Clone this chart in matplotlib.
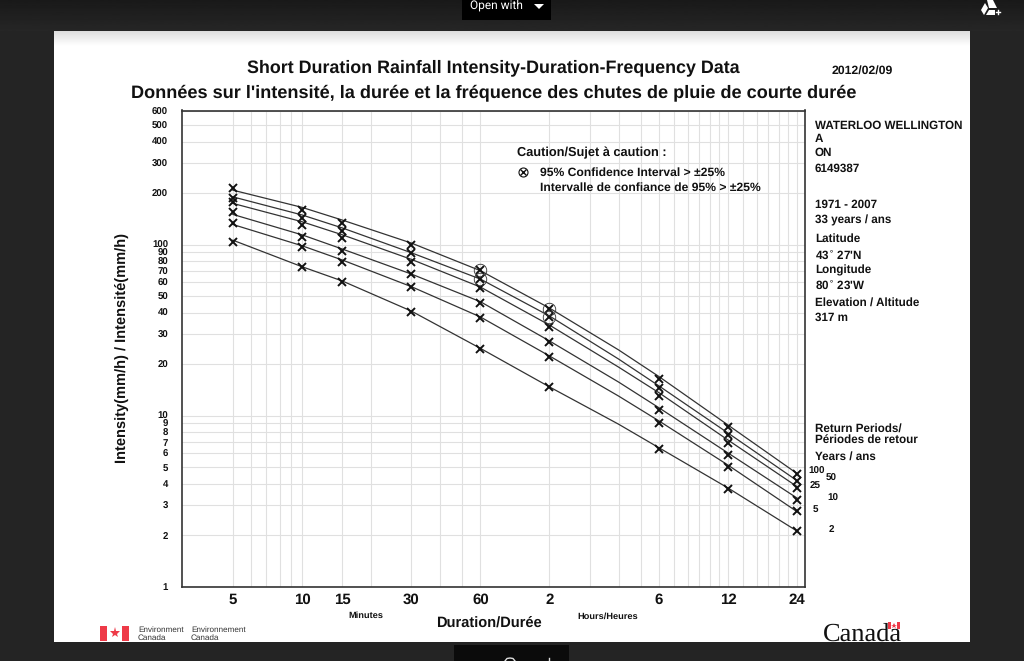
import numpy as np
import matplotlib
matplotlib.use("Agg")
import matplotlib.pyplot as plt
from matplotlib.patches import Rectangle, Polygon

plt.rcParams['font.family'] = ['Liberation Sans', 'DejaVu Sans']
plt.rcParams['text.hinting'] = 'no_hinting'

# durations in minutes
durations = [5, 10, 15, 30, 60, 120, 360, 720, 1440]
curve_durations = [5, 10, 15, 30, 60, 120, 240, 360, 720, 1440]

# x marks
marks_100 = [215, 159, 134, 99.3, 70.9, 41.8, 16.35, 8.53, 4.55]
marks_50 = [188, 143, 120, 88.8, 62.6, 37.5, 14.4, 7.69, 4.14]
marks_25 = [178, 130, 109, 79.3, 55.4, 32.8, 13.0, 6.93, 3.75]
marks_10 = [154, 111, 92, 66.9, 45.3, 26.8, 10.8, 5.88, 3.21]
marks_5 = [134, 96.3, 79.3, 56.2, 37.0, 22.0, 9.1, 4.98, 2.78]
marks_2 = [103, 73.6, 60.6, 40.5, 24.5, 14.6, 6.41, 3.70, 2.11]

# fitted curves
curve_100 = [208, 165, 139, 102, 70.3, 42.5, 24.2, 16.9, 8.8, 4.58]
curve_50 = [190, 149, 125, 89.5, 62.8, 38.2, 21.4, 14.9, 7.9, 4.16]
curve_25 = [174, 136, 114, 81.9, 56.4, 33.8, 19.2, 13.6, 7.19, 3.84]
curve_10 = [150, 114, 94.1, 67.2, 46.3, 27.3, 15.7, 11.1, 6.04, 3.29]
curve_5 = [131, 98.4, 81.2, 56.7, 37.7, 22.3, 13.0, 9.3, 5.13, 2.74]
curve_2 = [106, 74.2, 61.2, 40.8, 24.7, 14.7, 8.9, 6.48, 3.77, 2.11]

# points flagged with a circle (95% CI > 25%)
caution_x = [60, 60, 120, 120]
caution_y = [70.9, 62.6, 41.8, 37.5]

y_grid = [1, 2, 3, 4, 5, 6, 7, 8, 9, 10, 20, 30, 40, 50, 60, 70, 80, 90, 100,
          200, 300, 400, 500, 600]
x_grid = [5, 6, 7, 8, 9, 10, 15, 20, 30, 40, 50, 60, 120, 180, 240, 300, 360,
          420, 480, 540, 600, 660, 720, 840, 960, 1080, 1200, 1320, 1440]
x_labels = {5: '5', 10: '10', 15: '15', 30: '30', 60: '60', 120: '2',
            360: '6', 720: '12', 1440: '24'}

W, H = 1024, 661
fig = plt.figure(figsize=(W / 100, H / 100), dpi=100, facecolor='#242424')

# page and viewer chrome, in pixels
bg = fig.add_axes([0, 0, 1, 1], zorder=0)
bg.axis('off')
band = np.linspace(0.10, 0.15, 40).reshape(-1, 1)
bg.imshow(band, extent=[0, W, 31, 0], cmap='gray', vmin=0, vmax=1, aspect='auto')
bg.add_patch(Rectangle((54, 31), 916, 611, color='white', lw=0))
shade = np.linspace(0.87, 1, 30).reshape(-1, 1)
bg.imshow(shade, extent=[54, 970, 46, 31], cmap='gray', vmin=0, vmax=1, aspect='auto', zorder=2)
bg.set_xlim(0, W)
bg.set_ylim(H, 0)
bg.add_patch(Rectangle((462, -3), 89, 23, color='black', lw=0))
bg.add_patch(Polygon([(534, 4), (544, 4), (539, 9)], color='white', lw=0))
bg.add_patch(Polygon([(987, 0), (993, 0), (997, 8), (989, 8)], color='white', lw=0))
bg.add_patch(Polygon([(985, 3), (988, 8), (984, 15), (981, 10)], color='white', lw=0))
bg.add_patch(Polygon([(989, 10), (995, 10), (995, 15), (986, 15)], color='white', lw=0))
bg.plot([996, 1000], [12, 12], color='white', lw=1)
bg.plot([998, 998], [10, 14], color='white', lw=1)
bg.add_patch(Rectangle((454, 645), 115, 20, color='#0b0b0b', lw=0))
bg.plot([505, 507, 510, 513, 515], [661, 658.5, 658, 658.5, 661], color='#dddddd', lw=1)
bg.plot([549, 549], [658, 661], color='#dddddd', lw=1)

# flag logos
bg.add_patch(Rectangle((100, 626), 7, 15, color='#ee3a48', lw=0))
bg.add_patch(Rectangle((122, 626), 7, 15, color='#ee3a48', lw=0))
bg.plot([114.5], [633], marker='*', ms=8, color='#ee3a48', mew=0)
bg.add_patch(Rectangle((888, 622), 3, 7, color='#ee3a48', lw=0))
bg.add_patch(Rectangle((897, 622), 3, 7, color='#ee3a48', lw=0))
bg.plot([894], [625.5], marker='*', ms=4, color='#ee3a48', mew=0)

# text layer sits above the grid
fg = fig.add_axes([0, 0, 1, 1], zorder=3)
fg.patch.set_alpha(0)
fg.axis('off')
fg.set_xlim(0, W)
fg.set_ylim(H, 0)


def txt(x, y, s, size=8, weight='bold', ha='left', color='#111111', **kw):
    fg.text(x, y, s, fontsize=size, fontweight=weight, ha=ha, va='center',
            color=color, **kw)


txt(470, 5, 'Open with', 8.6, weight='normal', color='white', family='Roboto')
txt(493.5, 68, 'Short Duration Rainfall Intensity-Duration-Frequency Data', 12.9, ha='center')
txt(493.5, 93, "Données sur l'intensité, la durée et la fréquence des chutes de pluie de courte durée", 13.1, ha='center')
txt(832, 71, '2012/02/09', 8.8)

info = [(126, 'WATERLOO WELLINGTON'), (139, 'A'), (153, 'ON'), (169, '6149387'),
        (205, '1971 - 2007'), (220, '33 years / ans'), (239, 'Latitude'),
        (255, '43$^{\\circ}$ 27\'N'), (270, 'Longitude'), (285, '80$^{\\circ}$ 23\'W'),
        (303, 'Elevation / Altitude'), (318, '317 m'),
        (429, 'Return Periods/'), (440, 'Périodes de retour'), (457, 'Years / ans')]
for yy, s in info:
    txt(815, yy, s, 8.4)

for xx, yy, s in [(808, 471, '100'), (826, 478, '50'), (810, 486, '25'),
                  (827, 498, '10'), (813, 509, '5'), (829, 529, '2')]:
    txt(xx, yy, s, 7.1)

txt(517, 153, 'Caution/Sujet à caution :', 9.2)
txt(540, 173, '95% Confidence Interval > ±25%', 8.7)
txt(540, 188, 'Intervalle de confiance de 95% > ±25%', 8.7)
fg.plot([523], [172], marker='x', ms=4.5, mew=1, color='#111111')
fg.plot([523], [172], marker='o', ms=6.5, mew=0.8, mfc='none', color='#111111')

txt(121.5, 348, 'Intensity(mm/h) / Intensité(mm/h)', 10.5, ha='center', rotation=90)
txt(489, 623, 'Duration/Durée', 10.5, ha='center')
txt(366, 616, 'Minutes', 6.7, ha='center')
txt(608, 616, 'Hours/Heures', 6.7, ha='center')

for xx, top, bot in [(138, 'Environment', 'Canada'), (191, 'Environnement', 'Canada')]:
    txt(xx, 630, top, 5.9, weight='normal', color='#333333')
    txt(xx, 638, bot, 5.9, weight='normal', color='#333333')
fg.text(823, 641, 'Canada', fontsize=19, family='Liberation Serif', color='#111111',
        ha='left', va='baseline')

# main chart
L, R, T, B = 182, 805, 110.5, 586.5
ax = fig.add_axes([L / W, 1 - B / H, (R - L) / W, (B - T) / H], zorder=2)
ax.patch.set_alpha(0)
ax.set_xscale('log')
ax.set_yscale('log')
ax.set_xlim(3, 1560)
ax.set_ylim(1, 608)
ax.set_xticks(x_grid)
ax.set_xticklabels([x_labels.get(d, '') for d in x_grid], fontsize=10.8, fontweight='bold', color='#111111')
ax.set_yticks(y_grid)
ax.set_yticklabels([str(v) for v in y_grid], fontsize=6.9, fontweight='bold', color='#111111')
ax.minorticks_off()
ax.tick_params(axis='both', length=0)
ax.tick_params(axis='x', pad=5)
ax.tick_params(axis='y', pad=10)
ax.grid(True, color='#e0e0e0', lw=0.8)
ax.set_axisbelow(True)
for sp in ax.spines.values():
    sp.set_color('#333333')
    sp.set_linewidth(1.2)

curves = [curve_100, curve_50, curve_25, curve_10, curve_5, curve_2]
marks = [marks_100, marks_50, marks_25, marks_10, marks_5, marks_2]
for c, m in zip(curves, marks):
    ax.plot(curve_durations, c, color='#333333', lw=0.9)
    ax.plot(durations, m, ls='none', marker='x', ms=6.2, mew=1.4, color='#111111')
ax.plot(caution_x, caution_y, ls='none', marker='o', ms=9, mew=0.6, mfc='none', color='#333333')

fig.savefig('out.png', dpi=100, facecolor=fig.get_facecolor())
